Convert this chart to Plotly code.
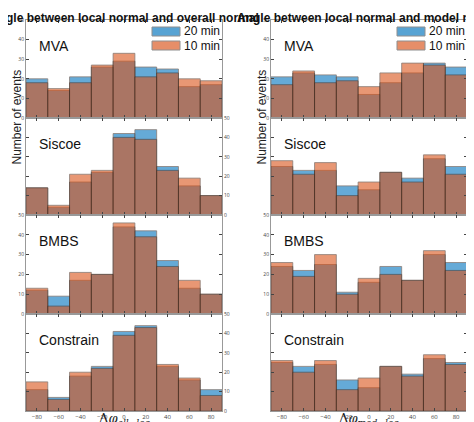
import plotly.graph_objects as go

centers = [-80, -60, -40, -20, 0, 20, 40, 60, 80]
methods = ["MVA", "Siscoe", "BMBS", "Constrain"]

# left column: angle between local normal and overall normal
left_20 = {
    "MVA":       [20, 14, 21, 26, 29, 26, 25, 16, 17],
    "Siscoe":    [14, 4, 17, 22, 42, 44, 25, 15, 10],
    "BMBS":      [12, 9, 17, 20, 44, 42, 27, 13, 10],
    "Constrain": [11, 7, 18, 23, 41, 44, 23, 16, 11],
}
left_10 = {
    "MVA":       [18, 15, 18, 27, 33, 21, 23, 20, 19],
    "Siscoe":    [14, 5, 21, 23, 40, 39, 23, 19, 10],
    "BMBS":      [13, 4, 21, 20, 46, 39, 24, 17, 10],
    "Constrain": [15, 6, 20, 22, 39, 43, 24, 17, 8],
}
# right column: angle between local normal and model normal
right_20 = {
    "MVA":       [21, 23, 22, 21, 12, 18, 23, 28, 26],
    "Siscoe":    [25, 23, 23, 15, 13, 22, 19, 29, 25],
    "BMBS":      [24, 22, 25, 11, 16, 24, 17, 30, 26],
    "Constrain": [25, 23, 24, 16, 12, 23, 19, 27, 25],
}
right_10 = {
    "MVA":       [17, 24, 18, 19, 16, 23, 28, 27, 22],
    "Siscoe":    [28, 21, 27, 10, 17, 22, 17, 31, 21],
    "BMBS":      [26, 19, 30, 10, 18, 20, 17, 32, 22],
    "Constrain": [26, 20, 26, 11, 17, 23, 18, 29, 24],
}
col_titles = ["Angle between local normal and overall normal",
              "Angle between local normal and model normal"]
x_titles = ["Δ<i>φ</i><sub><i>all−loc</i></sub>", "Δ<i>φ</i><sub><i>mod−loc</i></sub>"]

W, H = 474, 422
xdom = [(18, 214), (263, 459)]
ydom = [(12, 110), (110, 207), (207, 306), (306, 403)]
BLUE = "rgb(0,114,189)"
ORANGE = "rgb(217,83,25)"

fig = go.Figure()
data = [(left_20, left_10), (right_20, right_10)]
ann = []
shapes = []
for c in range(2):
    d20, d10 = data[c]
    for r, m in enumerate(methods):
        idx = c * 4 + r + 1
        xa = "x" if idx == 1 else f"x{idx}"
        ya = "y" if idx == 1 else f"y{idx}"
        for vals, col in ((d20[m], BLUE), (d10[m], ORANGE)):
            fig.add_trace(go.Bar(x=centers, y=vals, width=20, xaxis=xa, yaxis=ya,
                                 marker=dict(color=col, opacity=0.6,
                                             line=dict(color="rgba(60,40,30,0.8)", width=1)),
                                 showlegend=False))
        x0, x1 = xdom[c]
        y0, y1 = ydom[r]
        side = "left" if r % 2 == 0 else "right"
        fig.layout[f"xaxis{'' if idx == 1 else idx}"] = dict(
            domain=[x0 / W, x1 / W], anchor=ya, range=[-90, 90],
            tickvals=centers, showticklabels=(r == 3), ticks="inside", ticklen=3,
            tickfont=dict(size=6, color="#444"), mirror="ticks", showline=True,
            linecolor="#999", linewidth=1, showgrid=False, zeroline=False)
        fig.layout[f"yaxis{'' if idx == 1 else idx}"] = dict(
            domain=[1 - y1 / H, 1 - y0 / H], anchor=xa, range=[0, 50], side=side,
            tickvals=[0, 10, 20, 30, 40, 50], ticks="inside", ticklen=3,
            tickfont=dict(size=5, color="#444"), mirror="ticks", showline=True,
            linecolor="#999", linewidth=1, showgrid=False, zeroline=False)
        ann.append(dict(x=(x0 + 11) / W, y=1 - (y0 + 26) / H, xref="paper", yref="paper",
                        text=m, showarrow=False, xanchor="left", yanchor="middle",
                        font=dict(family="Liberation Sans", size=14, color="#111")))
    cx = (xdom[c][0] + xdom[c][1]) / 2 / W
    ann.append(dict(x=cx, y=1 - 1 / H, xref="paper", yref="paper",
                    text=f"<b>{col_titles[c]}</b>", showarrow=False, xanchor="center",
                    yanchor="top", font=dict(family="Liberation Sans", size=12, color="#111")))
    ann.append(dict(x=cx, y=1 - 422 / H, xref="paper", yref="paper",
                    text=x_titles[c], showarrow=False, xanchor="center", yanchor="bottom",
                    font=dict(family="DejaVu Serif", size=13, color="#222")))
    lx = xdom[c][1] - 70
    for k, (lab, col) in enumerate((("20 min", BLUE), ("10 min", ORANGE))):
        yt = 19 + k * 14
        shapes.append(dict(type="rect", xref="paper", yref="paper",
                           x0=lx / W, x1=(lx + 28) / W, y0=1 - (yt + 9) / H, y1=1 - yt / H,
                           fillcolor=col, opacity=0.65, line=dict(color="#555", width=1)))
        ann.append(dict(x=(lx + 30) / W, y=1 - (yt + 4.5) / H, xref="paper", yref="paper",
                        text=lab, showarrow=False, xanchor="left", yanchor="middle",
                        font=dict(family="Liberation Sans", size=12, color="#111")))
    ann.append(dict(x=(xdom[c][0] - 10) / W, y=1 - 60 / H, xref="paper", yref="paper",
                    text="Number of events", textangle=-90, showarrow=False, xanchor="center",
                    font=dict(family="Liberation Sans", size=12, color="#222")))

fig.update_layout(width=W, height=H, margin=dict(l=0, r=0, t=0, b=0, autoexpand=False),
                  barmode="overlay", paper_bgcolor="white", plot_bgcolor="white",
                  annotations=ann, shapes=shapes, showlegend=False)
fig.write_html("out.html")
